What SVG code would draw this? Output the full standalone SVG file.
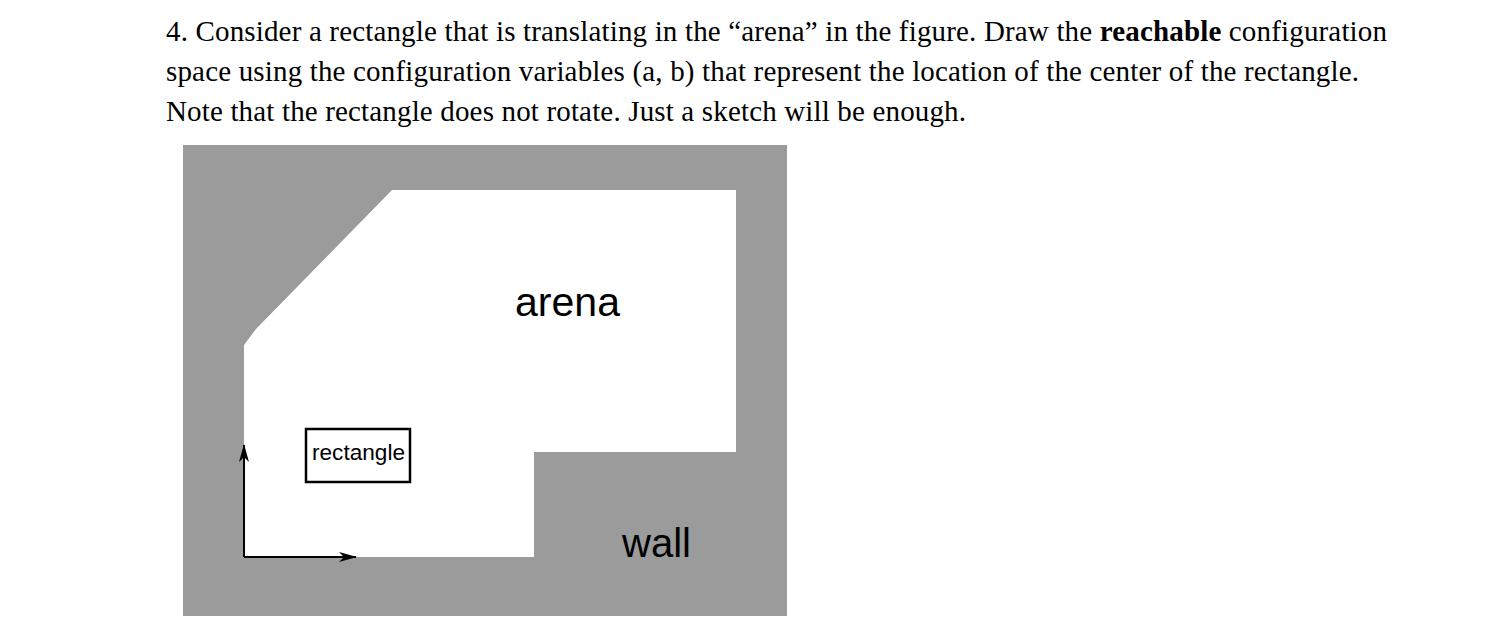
<svg xmlns="http://www.w3.org/2000/svg" width="1504" height="636" viewBox="0 0 1504 636">
<style>
.q{font-family:"Liberation Serif","Times New Roman",serif;font-size:29px;fill:#000}
.lbl{font-family:"Liberation Sans",Arial,sans-serif;fill:#000}
</style>
<defs>
<marker id="ah" markerWidth="18" markerHeight="10" refX="17" refY="5" orient="auto" markerUnits="userSpaceOnUse">
<path d="M0,0 L18,5 L0,10 L5,5 Z" fill="#000"/>
</marker>
</defs>
<rect width="1504" height="636" fill="#fff"/>
<g id="question">
<text class="q" x="166" y="41" textLength="1221" lengthAdjust="spacing">4. Consider a rectangle that is translating in the “arena” in the figure. Draw the <tspan font-weight="bold">reachable</tspan> configuration</text>
<text class="q" x="166" y="81" textLength="1193" lengthAdjust="spacing">space using the configuration variables (a, b) that represent the location of the center of the rectangle.</text>
<text class="q" x="166" y="121" textLength="800" lengthAdjust="spacing">Note that the rectangle does not rotate. Just a sketch will be enough.</text>
</g>
<g id="wall">
<rect x="183" y="145" width="604" height="471" fill="#9b9b9b"/>
</g>
<g id="arena">
<path d="M392,190 L736,190 L736,452 L534,452 L534,557 L244,557 L244,345 L256,329 Z" fill="#fff"/>
<text class="lbl" x="515" y="316" font-size="41" textLength="105" lengthAdjust="spacingAndGlyphs">arena</text>
</g>
<text class="lbl" x="622" y="557" font-size="40" textLength="69" lengthAdjust="spacingAndGlyphs">wall</text>
<g id="rectangle">
<rect x="306" y="429" width="104" height="53" fill="#fff" stroke="#000" stroke-width="2.5"/>
<text class="lbl" x="312" y="460" font-size="22.5" textLength="93" lengthAdjust="spacingAndGlyphs">rectangle</text>
</g>
<g id="connectors">
<path d="M244,557 L244,445" stroke="#000" stroke-width="2" fill="none" marker-end="url(#ah)"/>
<path d="M244,557 L356,557" stroke="#000" stroke-width="2" fill="none" marker-end="url(#ah)"/>
</g>
</svg>
